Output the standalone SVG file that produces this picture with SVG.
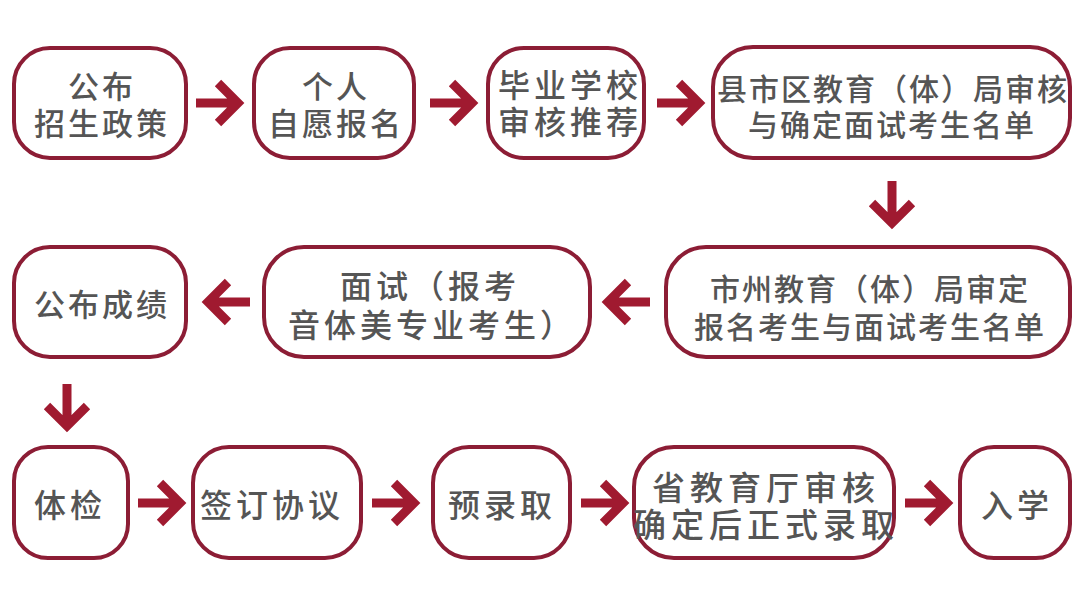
<svg xmlns="http://www.w3.org/2000/svg" width="1080" height="608" viewBox="0 0 1080 608">
<style>
.box{fill:#fff;stroke:#8c1d35;stroke-width:4}
.t{font-family:"Noto Sans CJK SC","Noto Sans",sans-serif;font-size:32px;font-weight:500;fill:#555;text-anchor:middle;dominant-baseline:central;letter-spacing:4px}
.s{font-size:31px;letter-spacing:3px}
.w{font-size:30px;letter-spacing:2px}
.l{font-size:33px;letter-spacing:5px}
.arr{fill:none;stroke:#a01a30;stroke-width:9;stroke-linejoin:miter;stroke-miterlimit:10}
</style>
<defs>
<g id="ar">
<path class="arr" d="M0 0H38M22 -20L42 0L22 20"/>
</g>
</defs>
<rect width="1080" height="608" fill="#fff"/>
<g id="n1"><rect class="box" x="14" y="48" width="172" height="110" rx="36"/><text class="t s" x="102" y="84">公布</text><text class="t s" x="102" y="121">招生政策</text></g>
<g id="n2"><rect class="box" x="254" y="48" width="160" height="110" rx="36"/><text class="t s" x="336" y="84">个人</text><text class="t s" x="336" y="121">自愿报名</text></g>
<g id="n3"><rect class="box" x="488" y="48" width="156" height="110" rx="36"/><text class="t" x="570" y="83">毕业学校</text><text class="t" x="570" y="120">审核推荐</text></g>
<g id="n4"><rect class="box" x="713" y="47" width="357" height="111" rx="40"/><text class="t w" x="893" y="87">县市区教育（体）局审核</text><text class="t w" x="892" y="123">与确定面试考生名单</text></g>
<g id="n5"><rect class="box" x="14" y="247" width="172" height="110" rx="36"/><text class="t s" x="102" y="302">公布成绩</text></g>
<g id="n6"><rect class="box" x="264" y="247" width="326" height="110" rx="40"/><text class="t" x="430" y="284">面试（报考</text><text class="t" x="432" y="323">音体美专业考生）</text></g>
<g id="n7"><rect class="box" x="666" y="247" width="404" height="110" rx="40"/><text class="t w" x="870" y="287">市州教育（体）局审定</text><text class="t w" x="870" y="325">报名考生与面试考生名单</text></g>
<g id="n8"><rect class="box" x="14" y="447" width="114" height="111" rx="34"/><text class="t" x="70" y="503">体检</text></g>
<g id="n9"><rect class="box" x="193" y="447" width="168" height="111" rx="36"/><text class="t" x="272" y="503">签订协议</text></g>
<g id="n10"><rect class="box" x="433" y="447" width="137" height="111" rx="36"/><text class="t" x="502" y="503">预录取</text></g>
<g id="n11"><rect class="box" x="634" y="447" width="260" height="111" rx="40"/><text class="t l" x="766" y="486">省教育厅审核</text><text class="t l" x="766" y="523">确定后正式录取</text></g>
<g id="n12"><rect class="box" x="960" y="447" width="110" height="111" rx="34"/><text class="t" x="1017" y="503">入学</text></g>
<g id="connectors">
<use href="#ar" transform="translate(196 103)"/>
<use href="#ar" transform="translate(430 103)"/>
<use href="#ar" transform="translate(657 103)"/>
<use href="#ar" transform="translate(892 181) rotate(90)"/>
<use href="#ar" transform="translate(650 302) rotate(180)"/>
<use href="#ar" transform="translate(250 302) rotate(180)"/>
<use href="#ar" transform="translate(67 384) rotate(90)"/>
<use href="#ar" transform="translate(138 503)"/>
<use href="#ar" transform="translate(372 503)"/>
<use href="#ar" transform="translate(581 503)"/>
<use href="#ar" transform="translate(905 503)"/>
</g>
</svg>
